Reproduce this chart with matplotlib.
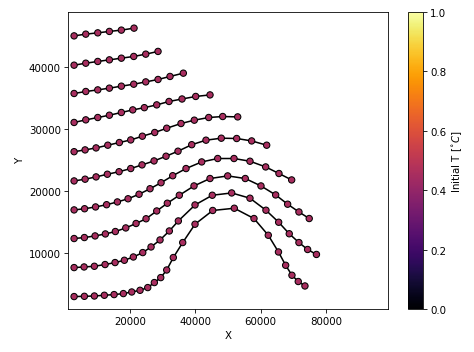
import numpy as np
import matplotlib
matplotlib.use("Agg")
import matplotlib.pyplot as plt
from matplotlib.cm import ScalarMappable
from matplotlib.colors import Normalize

# marker lines, bottom layer first
x_lines = [
    [2860, 6010, 9070, 12130, 15110, 17950, 20520, 23060, 25420, 27440, 29400, 31230,
     33250, 36130, 39900, 45320, 51930, 57960, 62340, 65460, 67660, 69590, 71520, 73570],
    [2860, 5920, 9070, 12350, 15410, 18260, 21010, 23890, 26430, 29180, 32030, 34790,
     39900, 45190, 51130, 56730, 61630, 65520, 68760, 71730, 74390, 77090],
    [2860, 6010, 9290, 12440, 15500, 18690, 21840, 24900, 28170, 31420, 35090, 39590,
     44490, 49910, 55290, 60100, 64600, 68270, 71730, 74880],
    [2860, 6070, 9440, 12810, 16120, 19390, 22760, 26120, 29490, 33070, 37140, 41950,
     46850, 51840, 56730, 61540, 65610, 69500],
    [2860, 6230, 9590, 13050, 16640, 20210, 23670, 27350, 31020, 34690, 38890, 43260,
     47950, 52660, 57250, 61850],
    [2860, 6230, 9590, 13180, 16730, 20210, 23770, 27560, 31230, 35610, 39680, 44090,
     48380, 52970],
    [2860, 6440, 10110, 13670, 17340, 20830, 24380, 28170, 31940, 35920, 40110, 44490],
    [2860, 6440, 10110, 13670, 17340, 21130, 24810, 28570, 32240, 36320],
    [2860, 6440, 10110, 13670, 17340, 21130, 24810, 28570],
    [2860, 6440, 10110, 13670, 17340, 21220],
]
y_lines = [
    [3010, 3050, 3100, 3220, 3330, 3490, 3750, 4020, 4460, 5270, 6070, 7300,
     9310, 11730, 14690, 16910, 17270, 15610, 12910, 10210, 8060, 6450, 5440, 4720],
    [7690, 7790, 7900, 8180, 8500, 8870, 9400, 10110, 11020, 12150, 13600, 15220,
     17800, 19370, 19740, 18890, 16950, 15010, 13150, 11730, 10610, 9810],
    [12380, 12540, 12800, 13120, 13510, 14090, 14810, 15570, 16830, 18080, 19370, 20870,
     22070, 22490, 22070, 20870, 19420, 17920, 16670, 15610],
    [17000, 17190, 17480, 17840, 18290, 18800, 19530, 20420, 21390, 22520, 23680, 24750,
     25300, 25300, 24860, 23940, 22880, 21840],
    [21680, 21960, 22330, 22760, 23170, 23680, 24270, 24910, 25670, 26480, 27530, 28260,
     28580, 28530, 28140, 27450],
    [26400, 26690, 27010, 27450, 27880, 28300, 28900, 29500, 30190, 30950, 31490, 31920,
     32080, 32020],
    [31120, 31540, 31920, 32290, 32730, 33150, 33510, 33960, 34510, 34910, 35320, 35570],
    [35800, 36120, 36380, 36660, 36980, 37300, 37670, 38060, 38550, 39080],
    [40370, 40690, 40970, 41230, 41500, 41780, 42150, 42590],
    [45100, 45380, 45590, 45820, 46030, 46350],
]
t_value = 0.45

fig = plt.figure(figsize=(6.4, 4.766), dpi=74.0625)
ax = fig.add_axes([0.1435, 0.1218, 0.675, 0.8422])
cax = fig.add_axes([0.8608, 0.1218, 0.0316, 0.8422])

cmap = plt.get_cmap("inferno")
norm = Normalize(vmin=0, vmax=1)
for xs, ys in zip(x_lines, y_lines):
    ax.plot(xs, ys, color="k", lw=1.5, zorder=1)
    ax.scatter(xs, ys, c=[t_value] * len(xs), cmap=cmap, norm=norm,
               s=38, edgecolors="k", linewidths=1, zorder=2)

ax.set_xlim(1000, 99000)
ax.set_ylim(1000, 49000)
ax.set_xticks([20000, 40000, 60000, 80000])
ax.set_yticks([10000, 20000, 30000, 40000])
ax.set_xlabel("X")
ax.set_ylabel("Y")

cb = fig.colorbar(ScalarMappable(norm=norm, cmap=cmap), cax=cax)
cb.set_label(r"Initial T [$^{\circ}C$]")

fig.savefig("out.png", dpi=74.0625)
